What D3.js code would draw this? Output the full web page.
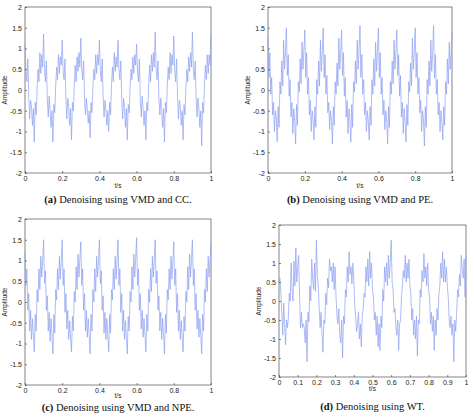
<!DOCTYPE html>
<html lang="en">
<head>
<meta charset="UTF-8">
<script src="https://cdn.jsdelivr.net/npm/d3@7"></script>
<style>
  body { margin: 0; background: #fff; }
  .axis text { font-family: "Liberation Sans", Arial, sans-serif; font-size: 7px; fill: #222; }
  .axis path, .axis line { stroke: #333; stroke-width: 0.6; }
  .lbl { font-family: "Liberation Sans", Arial, sans-serif; font-size: 6.5px; fill: #222; }
  .cap { font-family: "Liberation Serif", "DejaVu Serif", serif; font-size: 10.5px; fill: #111; }
</style>
</head>
<body>
<svg id="chart" width="474" height="418"></svg>
<script>
// sampled every 0.005 s, 0..1 s
const sigA = [
 1.1,0.45,0.2,0.75,-0.15,-0.7,-0.25,-0.4,-0.85,-0.45,-1.25,-0.3,-0.6,0.05,0.5,0.2,0.9,0.4,0.85,0.55,
 1.35,0.5,0.2,0.7,-0.2,-0.65,-0.15,-0.5,-0.9,-0.5,-1.25,-0.35,-0.55,0.1,0.55,0.25,0.85,0.4,0.8,0.6,
 1.2,0.45,0.25,0.75,-0.25,-0.7,-0.2,-0.4,-0.85,-0.45,-1.2,-0.3,-0.5,0.1,0.6,0.2,0.8,0.45,0.9,0.55,
 1.25,0.5,0.25,0.7,-0.2,-0.6,-0.2,-0.45,-0.8,-0.5,-1.15,-0.3,-0.55,0.05,0.5,0.25,0.85,0.4,0.85,0.6,
 1.2,0.45,0.2,0.75,-0.15,-0.65,-0.25,-0.45,-0.85,-0.5,-1.0,-0.3,-0.6,0.1,0.55,0.2,0.9,0.45,0.8,0.55,
 1.2,0.5,0.25,0.7,-0.2,-0.7,-0.2,-0.4,-0.9,-0.45,-1.2,-0.35,-0.55,0.05,0.5,0.25,0.8,0.4,0.85,0.6,
 1.1,0.45,0.2,0.75,-0.25,-0.65,-0.15,-0.45,-0.85,-0.5,-1.2,-0.3,-0.5,0.1,0.6,0.2,0.85,0.45,0.9,0.55,
 1.4,0.5,0.25,0.7,-0.2,-0.6,-0.2,-0.5,-0.9,-0.45,-1.25,-0.3,-0.55,0.1,0.55,0.25,0.9,0.4,0.85,0.6,
 1.3,0.45,0.2,0.75,-0.15,-0.7,-0.25,-0.4,-0.85,-0.5,-1.2,-0.35,-0.6,0.05,0.5,0.2,0.8,0.45,0.9,0.55,
 1.4,0.5,0.25,0.7,-0.2,-0.65,-0.2,-0.45,-0.9,-0.5,-1.35,-0.3,-0.55,0.1,0.6,0.25,0.85,0.4,0.85,0.6,
 1.35];
const sigB = [
 1.3,0.3,0.9,-0.1,0.3,-0.6,-0.3,-1.0,-0.5,-0.7,-1.25,-0.4,-0.9,0.2,-0.1,0.7,0.1,1.2,0.5,0.9,
 1.5,0.35,0.85,-0.15,0.25,-0.65,-0.3,-1.05,-0.45,-0.75,-1.3,-0.35,-0.85,0.2,-0.05,0.75,0.15,1.15,0.5,0.95,
 1.45,0.3,0.9,-0.1,0.3,-0.6,-0.25,-1.0,-0.5,-0.7,-1.2,-0.4,-0.9,0.25,-0.1,0.7,0.1,1.2,0.45,0.9,
 1.5,0.3,0.85,-0.1,0.35,-0.55,-0.3,-0.95,-0.5,-0.75,-1.3,-0.4,-0.85,0.2,-0.1,0.65,0.1,1.25,0.5,0.9,
 1.45,0.35,0.9,-0.15,0.3,-0.65,-0.25,-1.05,-0.45,-0.7,-1.25,-0.35,-0.9,0.2,-0.05,0.7,0.15,1.2,0.5,0.95,
 1.55,0.3,0.85,-0.1,0.25,-0.6,-0.3,-1.0,-0.5,-0.75,-1.2,-0.4,-0.85,0.25,-0.1,0.75,0.1,1.15,0.45,0.9,
 1.5,0.3,0.9,-0.1,0.3,-0.6,-0.25,-0.95,-0.5,-0.7,-1.3,-0.4,-0.9,0.2,-0.1,0.7,0.15,1.2,0.5,0.9,
 1.45,0.35,0.85,-0.15,0.35,-0.65,-0.3,-1.05,-0.45,-0.75,-1.25,-0.35,-0.85,0.2,-0.05,0.65,0.1,1.25,0.5,0.95,
 1.5,0.3,0.9,-0.1,0.3,-0.55,-0.25,-1.0,-0.5,-0.7,-1.35,-0.4,-0.9,0.25,-0.1,0.7,0.1,1.2,0.45,0.9,
 1.55,0.3,0.85,-0.1,0.25,-0.6,-0.3,-1.0,-0.5,-0.75,-1.2,-0.4,-0.85,0.2,-0.1,0.75,0.15,1.15,0.5,0.9,
 1.4];
const sigC = [
 1.2,0.4,0.8,-0.2,0.2,-0.7,-0.2,-0.9,-0.4,-0.8,-1.2,-0.3,-0.7,0.3,0.0,0.8,0.3,1.1,0.6,1.0,
 1.5,0.45,0.75,-0.2,0.15,-0.7,-0.25,-0.95,-0.4,-0.8,-1.25,-0.3,-0.75,0.3,0.05,0.8,0.3,1.1,0.55,1.0,
 1.5,0.4,0.8,-0.25,0.2,-0.65,-0.2,-0.9,-0.45,-0.85,-1.2,-0.35,-0.7,0.25,0.0,0.85,0.3,1.15,0.6,1.05,
 1.45,0.4,0.8,-0.2,0.2,-0.7,-0.2,-0.85,-0.4,-0.8,-1.25,-0.3,-0.7,0.3,0.0,0.8,0.25,1.1,0.6,1.0,
 1.5,0.45,0.75,-0.2,0.15,-0.75,-0.25,-0.9,-0.4,-0.8,-1.2,-0.3,-0.75,0.3,0.05,0.8,0.3,1.1,0.55,1.0,
 1.5,0.4,0.8,-0.25,0.2,-0.7,-0.2,-0.9,-0.45,-0.85,-1.25,-0.35,-0.7,0.25,0.0,0.85,0.3,1.15,0.6,1.05,
 1.55,0.4,0.8,-0.2,0.2,-0.65,-0.2,-0.85,-0.4,-0.8,-1.2,-0.3,-0.7,0.3,0.0,0.8,0.25,1.1,0.6,1.0,
 1.5,0.45,0.75,-0.2,0.15,-0.7,-0.25,-0.9,-0.4,-0.8,-1.25,-0.3,-0.75,0.3,0.05,0.8,0.3,1.1,0.55,1.0,
 1.45,0.4,0.8,-0.25,0.2,-0.7,-0.2,-0.9,-0.45,-0.85,-1.2,-0.35,-0.7,0.25,0.0,0.85,0.3,1.15,0.6,1.05,
 1.5,0.4,0.8,-0.2,0.2,-0.65,-0.2,-0.85,-0.4,-0.8,-1.25,-0.3,-0.7,0.3,0.0,0.8,0.25,1.1,0.6,1.0,
 1.45];
const sigD = [
 0.5,0.6,0.2,-0.3,-0.9,-0.05,-0.6,-1.15,-0.5,-0.7,-0.45,0.2,0.0,1.0,0.3,0.0,1.05,0.4,1.4,0.5,
 0.9,1.2,0.1,-0.7,-0.3,-0.7,-0.6,-0.7,-1.1,-0.5,-1.6,-0.3,-0.55,0.4,0.0,1.1,0.6,0.3,1.0,0.25,
 1.6,0.7,0.4,-0.2,-0.7,-0.3,-0.9,-1.35,-0.5,-0.6,0.2,-0.1,0.6,0.35,1.1,0.8,0.9,0.5,1.0,0.3,
 0.9,0.1,-0.4,-0.6,-0.2,-0.9,-1.1,-0.5,-1.5,-0.4,-0.6,0.3,0.1,0.9,0.5,1.3,0.7,0.9,0.45,1.0,
 0.6,-0.1,-0.4,-0.8,-0.6,-0.3,-1.0,-0.6,-1.2,-0.4,-0.2,0.2,0.1,0.9,0.5,1.1,0.4,1.3,0.6,1.0,
 0.3,0.1,-0.5,-0.3,-0.9,-0.4,-1.2,-0.6,-1.3,-0.4,-0.7,0.3,0.0,0.9,0.5,1.0,0.4,1.2,0.6,1.05,
 1.6,0.5,0.3,-0.3,-0.2,-0.7,-0.9,-0.5,-1.3,-0.6,-0.5,0.1,0.4,0.8,0.6,1.2,0.5,1.0,0.6,1.1,
 0.4,0.2,-0.5,-0.2,-0.9,-0.5,-1.0,-0.4,-1.45,-0.5,-0.6,0.3,0.1,0.8,0.5,1.25,0.6,0.9,0.4,1.0,
 0.3,0.1,-0.6,-0.3,-0.8,-0.4,-1.3,-0.5,-0.9,-0.2,-0.5,0.2,0.4,1.0,0.6,1.3,0.5,1.1,0.5,0.9,
 0.4,0.1,-0.5,-0.7,-0.4,-0.9,-0.6,-1.6,-0.5,-0.8,-0.3,0.3,0.1,0.7,0.4,1.2,0.8,0.6,1.1,0.1,
 1.2];
const yTicks = [-2, -1.5, -1, -0.5, 0, 0.5, 1, 1.5, 2];
const xTicksCoarse = [0, 0.2, 0.4, 0.6, 0.8, 1];
const xTicksFine = [0, 0.1, 0.2, 0.3, 0.4, 0.5, 0.6, 0.7, 0.8, 0.9, 1];
const panels = [
  { sig: sigA, tag: "(a)", text: " Denoising using VMD and CC.", box: [25, 7, 211, 173], xt: xTicksCoarse, lab: 15, cap: 203 },
  { sig: sigB, tag: "(b)", text: " Denoising using VMD and PE.", box: [268, 7, 452, 173], xt: xTicksCoarse, lab: 15, cap: 203 },
  { sig: sigC, tag: "(c)", text: " Denoising using VMD and NPE.", box: [25, 219, 211, 385], xt: xTicksCoarse, lab: 12.5, cap: 411 },
  { sig: sigD, tag: "(d)", text: " Denoising using WT.", box: [279, 225, 466, 377], xt: xTicksFine, lab: 14, cap: 410 }
];

const svg = d3.select("#chart");
const fmt = d => d === 0 ? "0" : String(d);

panels.forEach(p => {
  const [x0, y0, x1, y1] = p.box;
  const x = d3.scaleLinear().domain([0, 1]).range([x0, x1]);
  const y = d3.scaleLinear().domain([-2, 2]).range([y1, y0]);
  const g = svg.append("g");

  g.append("rect").attr("x", x0).attr("y", y0).attr("width", x1 - x0).attr("height", y1 - y0)
    .attr("fill", "none").attr("stroke", "#333").attr("stroke-width", 0.6);

  g.append("path")
    .datum(p.sig)
    .attr("fill", "none")
    .attr("stroke", "#8c9ff0")
    .attr("stroke-width", 0.7)
    .attr("d", d3.line().x((d, i) => x(i * 0.005)).y(d => y(d)));

  g.append("g").attr("class", "axis").attr("transform", `translate(0,${y1})`)
    .call(d3.axisBottom(x).tickValues(p.xt).tickFormat(fmt).tickSize(-2).tickPadding(3));
  g.append("g").attr("class", "axis").attr("transform", `translate(${x0},0)`)
    .call(d3.axisLeft(y).tickValues(yTicks).tickFormat(fmt).tickSize(-2).tickPadding(3));
  g.selectAll(".axis .domain").remove();

  g.append("text").attr("class", "lbl").attr("x", (x0 + x1) / 2).attr("y", y1 + p.lab)
    .attr("text-anchor", "middle").text("t/s");
  g.append("text").attr("class", "lbl")
    .attr("transform", `translate(${x0 - 18},${(y0 + y1) / 2}) rotate(-90)`)
    .attr("text-anchor", "middle").text("Amplitude");

  const c = g.append("text").attr("class", "cap").attr("x", (x0 + x1) / 2).attr("y", p.cap)
    .attr("text-anchor", "middle");
  c.append("tspan").attr("font-weight", "bold").text(p.tag);
  c.append("tspan").text(p.text);
});
</script>
</body>
</html>
